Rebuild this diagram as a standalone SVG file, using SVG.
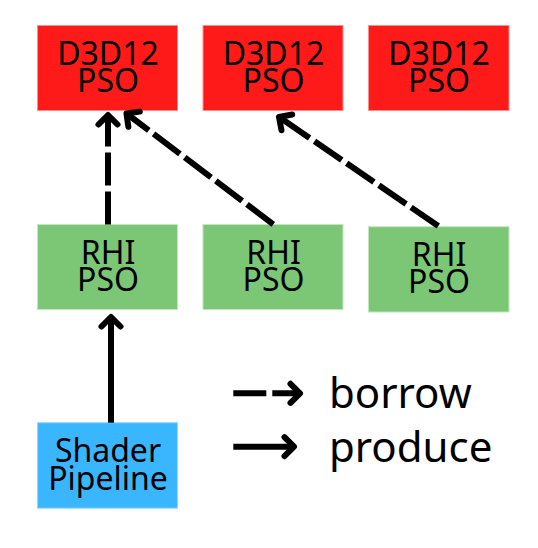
<svg xmlns="http://www.w3.org/2000/svg" width="538" height="548" viewBox="0 0 538 548">
<style>
  .d3d { fill: #ff1a1a; stroke: #ff8c8c; stroke-width: 1; }
  .rhi { fill: #7bc775; stroke: #c2e6bf; stroke-width: 1; }
  .shd { fill: #3ab5ff; stroke: #9ad6ff; stroke-width: 1; }
  .lbl { font-family: "Noto Sans", "Open Sans", sans-serif; font-size: 32px; fill: #000; text-anchor: middle; }
  .leg { font-family: "Noto Sans", "Open Sans", sans-serif; font-size: 42px; fill: #000; }
  .edge { fill: none; stroke: #000; stroke-width: 6; marker-end: url(#arr); }
  .dash { stroke-dasharray: 33 6; }
</style>
<defs>
  <marker id="arr" markerUnits="userSpaceOnUse" orient="auto" refX="0" refY="0" markerWidth="30" markerHeight="30" viewBox="-15 -15 30 30" overflow="visible">
    <path d="M-9.5,-9.5 L0,0 L-9.5,9.5" fill="none" stroke="#000" stroke-width="6" stroke-linecap="round" stroke-linejoin="round"/>
  </marker>
</defs>
<rect width="538" height="548" fill="#fff"/>

<g id="d3d12-pso-1">
  <rect class="d3d" x="37.5" y="25.5" width="140" height="85"/>
  <text class="lbl" x="108" y="65">D3D12</text>
  <text class="lbl" x="108" y="92.3">PSO</text>
</g>
<g id="d3d12-pso-2">
  <rect class="d3d" x="203" y="25.5" width="140" height="85"/>
  <text class="lbl" x="273.5" y="65">D3D12</text>
  <text class="lbl" x="273.5" y="92.3">PSO</text>
</g>
<g id="d3d12-pso-3">
  <rect class="d3d" x="368.5" y="25.5" width="140.5" height="85"/>
  <text class="lbl" x="439" y="65">D3D12</text>
  <text class="lbl" x="439" y="92.3">PSO</text>
</g>

<g id="rhi-pso-1">
  <rect class="rhi" x="37.5" y="224.5" width="140" height="85"/>
  <text class="lbl" x="108" y="263.5">RHI</text>
  <text class="lbl" x="108" y="290.8">PSO</text>
</g>
<g id="rhi-pso-2">
  <rect class="rhi" x="203" y="224.5" width="140" height="85"/>
  <text class="lbl" x="273.5" y="263.5">RHI</text>
  <text class="lbl" x="273.5" y="290.8">PSO</text>
</g>
<g id="rhi-pso-3">
  <rect class="rhi" x="368.5" y="226.7" width="140.5" height="85.3"/>
  <text class="lbl" x="439" y="266">RHI</text>
  <text class="lbl" x="439" y="293.3">PSO</text>
</g>

<g id="shader-pipeline">
  <rect class="shd" x="37.5" y="422.7" width="140" height="85.5"/>
  <text class="lbl" x="108" y="461.7">Shader</text>
  <text class="lbl" x="108" y="490">Pipeline</text>
</g>

<g id="connectors">
  <path class="edge dash" d="M108,224.5 L108,115"/>
  <path class="edge dash" d="M273.3,224.3 L126.5,113.5"/>
  <path class="edge dash" d="M438.3,226 L279,117"/>
  <path class="edge" d="M111,422.7 L111,317"/>
</g>

<g id="legend">
  <path class="edge dash" d="M233.3,393.3 L300,393.3"/>
  <path class="edge" d="M233.3,446.7 L294,446.7"/>
  <text class="leg" x="329" y="408.3">borrow</text>
  <text class="leg" x="329" y="461.7">produce</text>
</g>
</svg>
